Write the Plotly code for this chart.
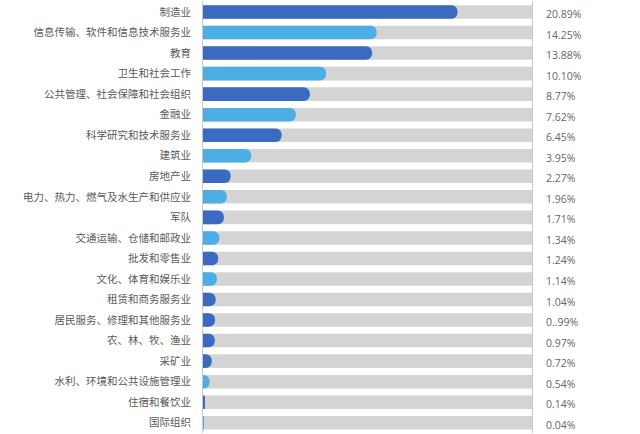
import plotly.graph_objects as go

categories = ["制造业", "信息传输、软件和信息技术服务业", "教育", "卫生和社会工作",
              "公共管理、社会保障和社会组织", "金融业", "科学研究和技术服务业", "建筑业",
              "房地产业", "电力、热力、燃气及水生产和供应业", "军队", "交通运输、仓储和邮政业",
              "批发和零售业", "文化、体育和娱乐业", "租赁和商务服务业", "居民服务、修理和其他服务业",
              "农、林、牧、渔业", "采矿业", "水利、环境和公共设施管理业", "住宿和餐饮业", "国际组织"]
values = [20.89, 14.25, 13.88, 10.10, 8.77, 7.62, 6.45, 3.95, 2.27, 1.96, 1.71, 1.34,
          1.24, 1.14, 1.04, 0.99, 0.97, 0.72, 0.54, 0.14, 0.04]
pct_labels = ["20.89%", "14.25%", "13.88%", "10.10%", "8.77%", "7.62%", "6.45%", "3.95%",
              "2.27%", "1.96%", "1.71%", "1.34%", "1.24%", "1.14%", "1.04%", "0..99%",
              "0.97%", "0.72%", "0.54%", "0.14%", "0.04%"]
shade = ["dark", "light", "dark", "light", "dark", "light", "dark", "light", "dark", "light",
         "dark", "light", "dark", "light", "dark", "dark", "dark", "dark", "light", "dark", "light"]

DARK = "#3a6bc0"
LIGHT = "#4daee6"
TRACK = "#d4d4d4"
XMAX = 27

fig = go.Figure()
# background tracks (square ends) on the base x-axis
fig.add_trace(go.Bar(
    y=categories, x=[XMAX] * len(categories), orientation="h", xaxis="x",
    marker=dict(color=TRACK, line=dict(width=0)), width=0.66,
    hoverinfo="skip", showlegend=False))
# value bars with rounded ends on an overlaying x-axis (same scale)
fig.add_trace(go.Bar(
    y=categories, x=values, orientation="h", xaxis="x2",
    marker=dict(color=[DARK if s == "dark" else LIGHT for s in shade],
                line=dict(width=0), cornerradius="50%"),
    width=0.66, showlegend=False))

for c, t in zip(categories, pct_labels):
    fig.add_annotation(x=1, xref="paper", xanchor="left", xshift=12,
                       y=c, yref="y", yshift=-2, text=t, showarrow=False,
                       font=dict(family="Open Sans", size=10.5, color="#666666"))

fig.update_layout(
    width=640, height=434,
    margin=dict(l=203, r=108, t=1, b=1),
    barmode="overlay", bargap=0.34,
    paper_bgcolor="white", plot_bgcolor="white",
    font=dict(family="Noto Sans CJK SC", size=10.5, color="#555555"),
    xaxis=dict(range=[0, XMAX], showgrid=False, zeroline=False, showticklabels=False,
               showline=False, fixedrange=True),
    xaxis2=dict(range=[0, XMAX], overlaying="x", showgrid=False, zeroline=False,
                showticklabels=False, showline=False, fixedrange=True),
    yaxis=dict(autorange="reversed", showgrid=False, zeroline=False,
               showline=True, mirror=True, linecolor="#c8c8c8", linewidth=1,
               ticks="", ticklabelstandoff=9,
               tickfont=dict(family="Noto Sans CJK SC", size=10.5, color="#5a5a5a")),
)

fig.write_html("out.html")
